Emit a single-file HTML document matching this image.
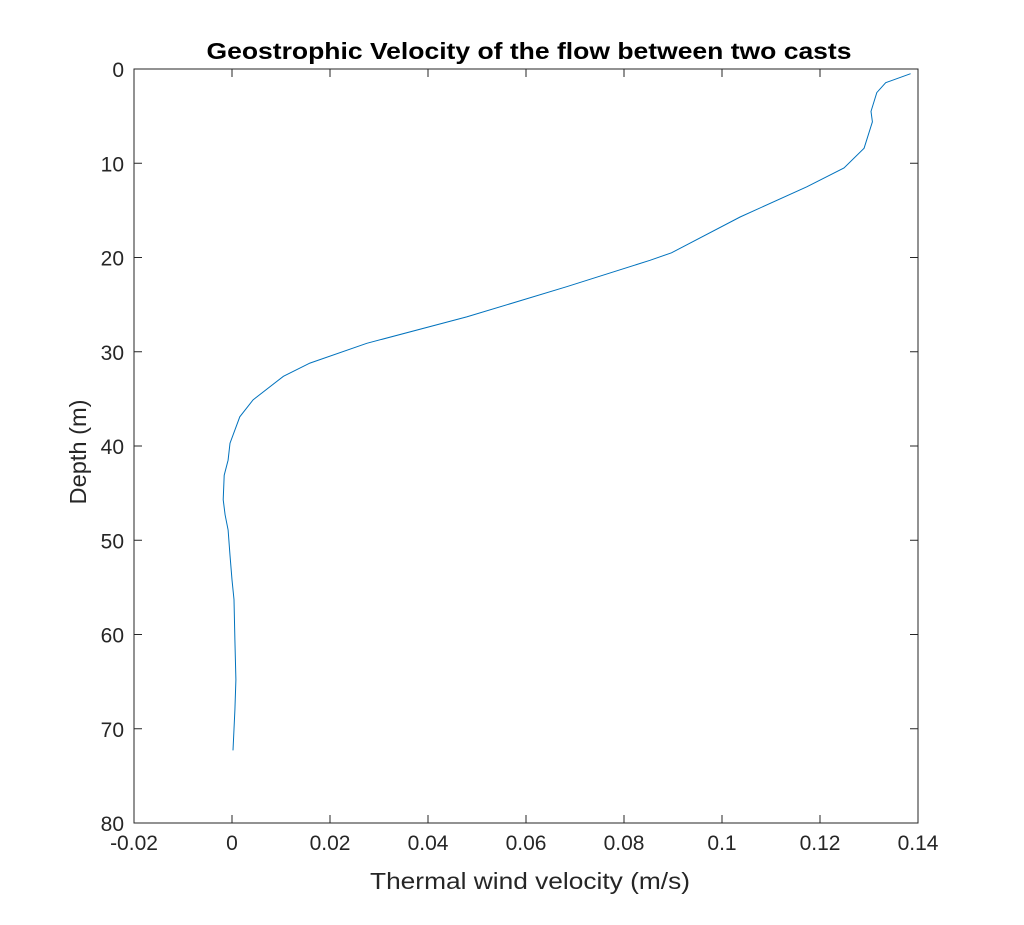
<!DOCTYPE html>
<html><head><meta charset="utf-8"><style>
body{margin:0;background:#fff;}
svg{display:block;font-family:"Liberation Sans",sans-serif;}
</style></head><body>
<svg id="chart" width="1024" height="925" xmlns="http://www.w3.org/2000/svg">
<rect width="1024" height="925" fill="#fff"/>
<text x="529" y="59" text-anchor="middle" font-size="23" font-weight="bold" fill="#000" textLength="645" lengthAdjust="spacingAndGlyphs">Geostrophic Velocity of the flow between two casts</text>
<rect x="134" y="69" width="784" height="754" fill="none" stroke="#262626" stroke-width="1"/>
<g id="ticks"></g>
<path id="line" fill="none" stroke="#0072BD" stroke-width="1"/>
<text x="530" y="889" text-anchor="middle" font-size="23" fill="#262626" textLength="320" lengthAdjust="spacingAndGlyphs">Thermal wind velocity (m/s)</text>
<text transform="translate(86,452) rotate(-90)" text-anchor="middle" font-size="23" fill="#262626" textLength="105" lengthAdjust="spacingAndGlyphs">Depth (m)</text>
</svg>
<script>
const velocity=[0.1385,0.1334,0.1316,0.1304,0.1307,0.129,0.1249,0.1173,0.1037,0.0897,0.0853,0.0683,0.0479,0.0275,0.0159,0.0105,0.0043,0.0016,-0.0004,-0.0008,-0.0016,-0.0018,-0.0014,-0.0008,-0.0004,0,0.0004,0.0006,0.0008,0.0006,0.0002];
const depth=[0.5,1.45,2.5,4.5,5.6,8.4,10.5,12.5,15.7,19.5,20.3,23.1,26.3,29.1,31.2,32.6,35.1,36.9,39.7,41.5,43.1,45.7,47.3,48.9,51.6,54.2,56.3,60.6,64.8,68,72.3];
const xTicks=[-0.02,0,0.02,0.04,0.06,0.08,0.1,0.12,0.14];
const xLabels=["-0.02","0","0.02","0.04","0.06","0.08","0.1","0.12","0.14"];
const yTicks=[0,10,20,30,40,50,60,70,80];
const L=134,R=918,T=69,B=823;
const sx=v=>L+(v+0.02)/0.16*(R-L);
const sy=d=>T+d/80*(B-T);
const NS="http://www.w3.org/2000/svg";
const g=document.getElementById('ticks');
function mk(tag,attrs){const e=document.createElementNS(NS,tag);for(const k in attrs)e.setAttribute(k,attrs[k]);g.appendChild(e);return e;}
xTicks.forEach((v,i)=>{const x=sx(v);
 const t1=mk('line',{x1:x,x2:x,y1:B,y2:B-8,stroke:'#262626'});
 
 
 const t2=mk('line',{x1:x,x2:x,y1:T,y2:T+8,stroke:'#262626'});
 
 
 const tx=mk('text',{x:x,y:B+27,'text-anchor':'middle','font-size':21,fill:'#262626'});tx.textContent=xLabels[i];
 
 
});
yTicks.forEach(d=>{const y=sy(d);
 const t1=mk('line',{x1:L,x2:L+8,y1:y,y2:y,stroke:'#262626'});
 
 
 const t2=mk('line',{x1:R,x2:R-8,y1:y,y2:y,stroke:'#262626'});
 
 
 const tx=mk('text',{x:L-10,y:y+8,'text-anchor':'end','font-size':21,fill:'#262626'});tx.textContent=String(d);
 
 
});
document.getElementById('line').setAttribute('d',velocity.map((v,i)=>(i?'L':'M')+sx(v).toFixed(1)+','+sy(depth[i]).toFixed(1)).join(''));
</script>
</body></html>
